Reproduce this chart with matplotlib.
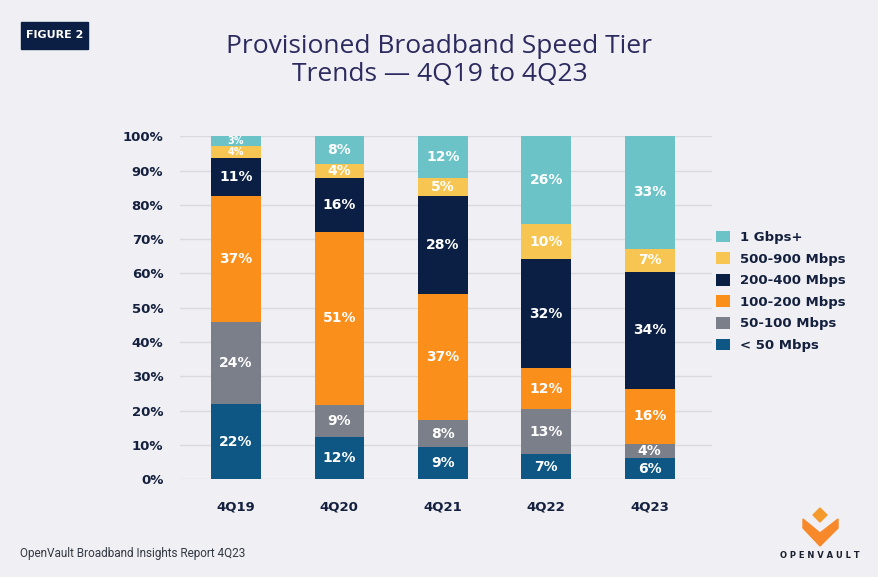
import numpy as np
import matplotlib
matplotlib.use("Agg")
import matplotlib.pyplot as plt
from matplotlib.patches import Rectangle, Polygon

quarters = ["4Q19", "4Q20", "4Q21", "4Q22", "4Q23"]
tiers = ["< 50 Mbps", "50-100 Mbps", "100-200 Mbps", "200-400 Mbps", "500-900 Mbps", "1 Gbps+"]

# share of subscribers per tier (bottom to top), percent
lt50 = [22.0, 12.4, 9.4, 7.4, 6.4]
m50_100 = [23.8, 9.2, 7.9, 13.0, 4.0]
m100_200 = [36.8, 50.6, 36.8, 12.0, 16.1]
m200_400 = [11.0, 15.6, 28.4, 31.8, 33.9]
m500_900 = [3.6, 4.1, 5.2, 10.2, 6.8]
g1 = [2.8, 8.1, 12.3, 25.6, 32.8]

# labels as printed on the chart
lab_lt50 = [22, 12, 9, 7, 6]
lab_50_100 = [24, 9, 8, 13, 4]
lab_100_200 = [37, 51, 37, 12, 16]
lab_200_400 = [11, 16, 28, 32, 34]
lab_500_900 = [4, 4, 5, 10, 7]
lab_g1 = [3, 8, 12, 26, 33]

series = [lt50, m50_100, m100_200, m200_400, m500_900, g1]
labels = [lab_lt50, lab_50_100, lab_100_200, lab_200_400, lab_500_900, lab_g1]
colors = ["#0e5784", "#7b7f8a", "#fa8f1c", "#0b1f44", "#f6c552", "#6cc3c7"]

bg = "#f0f0f4"
navy = "#14203d"

fig = plt.figure(figsize=(8.79, 5.77), dpi=100, facecolor=bg)
ax = fig.add_axes([0.2048, 0.169, 0.605, 0.595], facecolor=bg)

x = np.arange(len(quarters))
bottom = np.zeros(len(quarters))
handles = []
for vals, labs, col, name in zip(series, labels, colors, tiers):
    vals = np.array(vals)
    b = ax.bar(x, vals, 0.48, bottom=bottom, color=col, label=name, zorder=3)
    handles.append(b)
    for xi, v, bt, lb in zip(x, vals, bottom, labs):
        fs = 7 if v < 3.8 else 10  # thin slices get a smaller label
        ax.text(xi, bt + v / 2, f"{lb}%", ha="center", va="center",
                color="white", fontsize=fs, fontweight="bold", zorder=4)
    bottom += vals

ax.set_xlim(-0.54, 4.6)
ax.set_ylim(0, 100)
ax.set_yticks(np.arange(0, 101, 10))
ax.set_yticklabels([f"{t}%" for t in range(0, 101, 10)])
ax.set_xticks(x)
ax.set_xticklabels(quarters)
ax.tick_params(axis="both", length=0, labelsize=9.5, labelcolor=navy)
ax.tick_params(axis="y", pad=12)
ax.tick_params(axis="x", pad=15)
for t in ax.get_xticklabels() + ax.get_yticklabels():
    t.set_fontweight("bold")
ax.yaxis.grid(True, color="#d9d9de", linewidth=1, zorder=0)
for s in ax.spines.values():
    s.set_visible(False)

leg = fig.legend(handles[::-1], tiers[::-1], loc="upper left",
                 bbox_to_anchor=(0.8015, 0.621), frameon=False,
                 handlelength=1.0, handleheight=1.0, handletextpad=0.8,
                 labelspacing=0.62, fontsize=9.5)
for t in leg.get_texts():
    t.set_color(navy)
    t.set_fontweight("bold")

fig.text(0.5, 0.895, "Provisioned Broadband Speed Tier\nTrends \u2014 4Q19 to 4Q23",
         ha="center", va="center", fontsize=19, color="#2c2a5e",
         linespacing=1.2, family="Open Sans")

# figure badge
fig.patches.append(Rectangle((21 / 879, 1 - 49 / 577), 67 / 879, 27 / 577,
                             transform=fig.transFigure, color="#0b1f44"))
fig.text(54.5 / 879, 1 - 35.5 / 577, "FIGURE 2", ha="center", va="center",
         color="white", fontsize=8, fontweight="bold")

fig.text(20 / 879, 1 - 554 / 577, "OpenVault Broadband Insights Report 4Q23",
         ha="left", va="center", fontsize=8.5, color="#333842", family="Roboto")

# simple logo
def fp(px, py):
    return (px / 879, 1 - py / 577)

fig.patches.append(Polygon([fp(820, 508), fp(827, 515), fp(820, 522), fp(813, 515)],
                           transform=fig.transFigure, color="#f59a2c"))
fig.patches.append(Polygon([fp(803, 519), fp(820, 533), fp(838, 519), fp(838, 528),
                            fp(820, 546), fp(803, 528)],
                           transform=fig.transFigure, color="#f7892a"))
fig.text(820 / 879, 1 - 555 / 577, "O P E N V A U L T", ha="center", va="center",
         fontsize=6, color="#1c2130", fontweight="bold")

fig.savefig("out.png", dpi=100, facecolor=bg)
